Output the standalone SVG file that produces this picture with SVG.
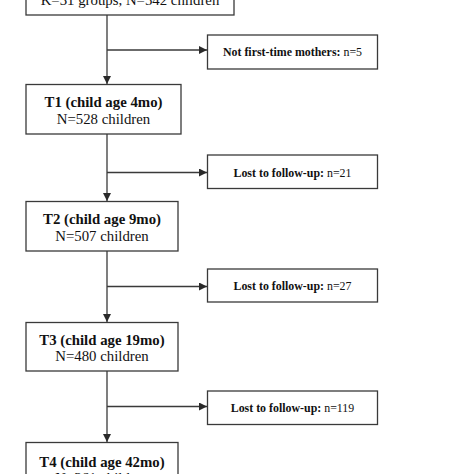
<svg xmlns="http://www.w3.org/2000/svg" width="474" height="474" viewBox="0 0 474 474">
<style>
.box{fill:#fff;stroke:#3a3a3a;stroke-width:1.3}
.line{stroke:#3a3a3a;stroke-width:1.3;fill:none}
.main{font-family:"Liberation Serif","Times New Roman",serif;font-size:14.8px;fill:#111;text-anchor:middle}
.side{font-family:"Liberation Serif","Times New Roman",serif;font-size:11.9px;fill:#111;text-anchor:middle}
.b{font-weight:bold}
</style>
<defs>
<marker id="ah" markerWidth="8" markerHeight="8" refX="8" refY="4" orient="auto" markerUnits="userSpaceOnUse">
<path d="M0,0 L8,4 L0,8 Z" fill="#2a2a2a"/>
</marker>
</defs>
<rect width="474" height="474" fill="#fff"/>
<g id="connectors">
<line class="line" x1="107" y1="15" x2="107" y2="84" marker-end="url(#ah)"/>
<line class="line" x1="107" y1="50" x2="207" y2="50" marker-end="url(#ah)"/>
<line class="line" x1="107" y1="134" x2="107" y2="201" marker-end="url(#ah)"/>
<line class="line" x1="107" y1="172.5" x2="207" y2="172.5" marker-end="url(#ah)"/>
<line class="line" x1="107" y1="251" x2="107" y2="322" marker-end="url(#ah)"/>
<line class="line" x1="107" y1="286.5" x2="207" y2="286.5" marker-end="url(#ah)"/>
<line class="line" x1="107" y1="371" x2="107" y2="442" marker-end="url(#ah)"/>
<line class="line" x1="107" y1="406.5" x2="207" y2="406.5" marker-end="url(#ah)"/>
</g>
<g id="n0">
<rect class="box" x="26" y="-20" width="208" height="35"/>
<text class="main" x="130" y="4.5">K=31 groups, N=542 children</text>
</g>
<g id="s1">
<rect class="box" x="207.5" y="35" width="170" height="34"/>
<text class="side" x="292.5" y="56"><tspan class="b">Not first-time mothers:</tspan> n=5</text>
</g>
<g id="n1">
<rect class="box" x="26" y="84.5" width="155" height="49.5"/>
<text class="main b" x="103.5" y="106.5">T1 (child age 4mo)</text>
<text class="main" x="103.5" y="123.5">N=528 children</text>
</g>
<g id="s2">
<rect class="box" x="207.5" y="155" width="170" height="33.5"/>
<text class="side" x="292.5" y="176.5"><tspan class="b">Lost to follow-up:</tspan> n=21</text>
</g>
<g id="n2">
<rect class="box" x="26" y="201.5" width="152" height="49.5"/>
<text class="main b" x="102" y="223.5">T2 (child age 9mo)</text>
<text class="main" x="102" y="240.5">N=507 children</text>
</g>
<g id="s3">
<rect class="box" x="207.5" y="269" width="170" height="33"/>
<text class="side" x="292.5" y="290"><tspan class="b">Lost to follow-up:</tspan> n=27</text>
</g>
<g id="n3">
<rect class="box" x="26" y="322.5" width="152" height="48.5"/>
<text class="main b" x="102" y="344.5">T3 (child age 19mo)</text>
<text class="main" x="102" y="361">N=480 children</text>
</g>
<g id="s4">
<rect class="box" x="207.5" y="391" width="170" height="33.5"/>
<text class="side" x="292.5" y="412"><tspan class="b">Lost to follow-up:</tspan> n=119</text>
</g>
<g id="n4">
<rect class="box" x="26" y="442.5" width="152" height="49.5"/>
<text class="main b" x="102" y="466.5">T4 (child age 42mo)</text>
<text class="main" x="102" y="483">N=361 children</text>
</g>
</svg>
